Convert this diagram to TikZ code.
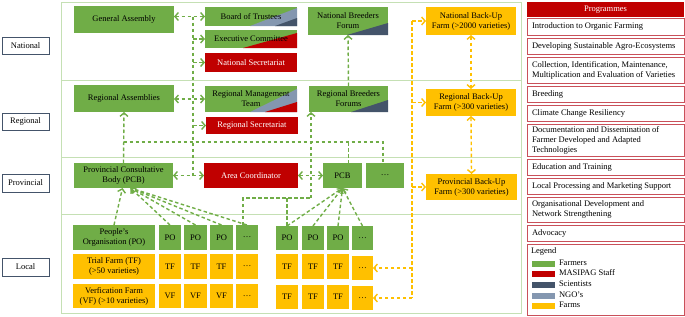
\documentclass[tikz,border=0pt]{standalone}
\usepackage{fontspec}
\setmainfont{Liberation Serif}
\usetikzlibrary{arrows.meta,calc,shadows}
\definecolor{farm}{HTML}{70AD47}
\definecolor{staff}{HTML}{C00000}
\definecolor{sci}{HTML}{44546A}
\definecolor{ngo}{HTML}{8497B0}
\definecolor{farms}{HTML}{FFC000}
\definecolor{framec}{HTML}{C5E0B4}
\definecolor{prog}{HTML}{C9505A}
\definecolor{lvl}{HTML}{44546A}
\newcommand{\rbox}[7]{%
  \pgfmathsetmacro\rbw{#5-#3}%
  \pgfmathsetmacro\rbh{#6-#4}%
  \node[#1, minimum width=\rbw pt, minimum height=\rbh pt] (#2) at ({(#3+#5)/2},{(#4+#6)/2}) {#7};}
\begin{document}
\begin{tikzpicture}[x=1pt,y=-1pt,
  base/.style={inner sep=0pt, outer sep=0pt, align=center, font=\fontsize{8.5}{10}\selectfont},
  gnode/.style={base, fill=farm},
  rnode/.style={base, fill=staff, text=white},
  ynode/.style={base, fill=farms},
  lvlnode/.style={base, fill=white, draw=lvl, line width=1pt, drop shadow={shadow xshift=0.8pt, shadow yshift=-0.8pt, opacity=0.3}},
  pnode/.style={base, fill=white, draw=prog, line width=0.9pt},
  ptext/.style={base, align=left, anchor=west},
  gconn/.style={draw=farm, line width=1.4pt, dash pattern=on 3.5pt off 2.5pt},
  yconn/.style={draw=farms, line width=1.4pt, dash pattern=on 3.5pt off 2.5pt},
  >={Straight Barb[length=3.5pt,width=8pt]},
  ]
\useasboundingbox (0,0) rectangle (685,316);
% frame
\draw[framec, line width=1pt] (61,2) rectangle (521,313);
\draw[framec, line width=1pt] (61,80) -- (521,80) (61,157) -- (521,157) (61,214) -- (521,214);
% level labels
\rbox{lvlnode}{lnat}{2}{37}{49}{54}{National}
\rbox{lvlnode}{lreg}{2}{113}{49}{130}{Regional}
\rbox{lvlnode}{lprov}{2}{174}{49}{192}{Provincial}
\rbox{lvlnode}{lloc}{2}{258}{49}{276}{Local}
% national
\rbox{gnode}{ga}{74}{6}{174}{33}{General Assembly}
\rbox{gnode, path picture={\fill[ngo] ([xshift=-47pt]path picture bounding box.south east) -- ([yshift=-1pt]path picture bounding box.north east) -- (path picture bounding box.south east) -- cycle; \fill[sci] ([xshift=-22pt]path picture bounding box.south east) -- ([yshift=8pt]path picture bounding box.south east) -- (path picture bounding box.south east) -- cycle;}}{bot}{205}{7}{297}{26}{Board of Trustees}
\rbox{gnode, path picture={\fill[staff] ([xshift=-54pt]path picture bounding box.south east) -- ([yshift=-3pt]path picture bounding box.north east) -- (path picture bounding box.south east) -- cycle;}}{ec}{205}{30}{297}{48}{Executive Committee}
\rbox{rnode}{ns}{205}{53}{297}{72}{National Secretariat}
\rbox{gnode, path picture={\fill[sci] ([xshift=-41pt]path picture bounding box.south east) -- ([yshift=12pt]path picture bounding box.south east) -- (path picture bounding box.south east) -- cycle;}}{nbf}{308}{7}{388}{35}{National Breeders\\Forum}
\rbox{ynode}{nbuf}{426}{7}{516}{35}{National Back-Up\\Farm (>2000 varieties)}
% regional
\rbox{gnode}{ra}{74}{85}{174}{112}{Regional Assemblies}
\rbox{gnode, path picture={\fill[ngo] ([xshift=-47pt]path picture bounding box.south east) -- ([yshift=-3pt]path picture bounding box.north east) -- (path picture bounding box.south east) -- cycle; \fill[staff] ([xshift=-32pt]path picture bounding box.south east) -- ([yshift=10pt]path picture bounding box.south east) -- (path picture bounding box.south east) -- cycle;}}{rmt}{205}{86}{297}{112}{Regional Management\\Team}
\rbox{rnode}{rs}{206}{117}{298}{134}{Regional Secretariat}
\rbox{gnode, path picture={\fill[sci] ([xshift=-37pt]path picture bounding box.south east) -- ([yshift=12pt]path picture bounding box.south east) -- (path picture bounding box.south east) -- cycle;}}{rbf}{309}{86}{388}{112}{Regional Breeders\\Forums}
\rbox{ynode}{rbuf}{426}{89}{516}{116}{Regional Back-Up\\Farm (>300 varieties)}
% provincial
\rbox{gnode}{pcbb}{74}{163}{173}{188}{Provincial Consultative\\Body (PCB)}
\rbox{rnode}{ac}{204}{163}{298}{188}{Area Coordinator}
\rbox{gnode}{pcb}{323}{163}{362}{188}{PCB}
\rbox{gnode}{pdots}{366}{163}{404}{188}{\ldots}
\rbox{ynode}{pbuf}{426}{174}{517}{200}{Provincial Back-Up\\Farm (>300 varieties)}
% local
\rbox{gnode}{lpo}{73}{225}{155}{250}{People’s\\Organisation (PO)}
\rbox{ynode}{ltf}{73}{254}{155}{279}{Trial Farm (TF)\\(>50 varieties)}
\rbox{ynode}{lvf}{73}{284}{155}{308}{Verfication Farm\\(VF) (>10 varieties)}
\foreach \i/\a/\b in {1/159/181,2/184/207,3/210/233}{
  \rbox{gnode}{lpo\i}{\a}{225}{\b}{250}{PO}
  \rbox{ynode}{ltf\i}{\a}{254}{\b}{279}{TF}
  \rbox{ynode}{lvf\i}{\a}{284}{\b}{308}{VF}
}
\rbox{gnode}{lpod}{236}{225}{258}{250}{\ldots}
\rbox{ynode}{ltfd}{236}{254}{258}{279}{\ldots}
\rbox{ynode}{lvfd}{236}{284}{258}{308}{\ldots}
\foreach \i/\a/\b in {1/276/298,2/302/324,3/327/349}{
  \rbox{gnode}{rpo\i}{\a}{226}{\b}{250}{PO}
  \rbox{ynode}{rtf\i}{\a}{254}{\b}{279}{TF}
  \rbox{ynode}{rbt\i}{\a}{285}{\b}{309}{TF}
}
\rbox{gnode}{rpod}{352}{226}{373}{250}{\ldots}
\rbox{ynode}{rtfd}{352}{256}{373}{280}{\ldots}
\rbox{ynode}{rbtd}{352}{286}{373}{310}{\ldots}
% programmes
\rbox{base, fill=staff, text=white}{phead}{527}{2}{684}{17}{Programmes}
\foreach \n/\ya/\yb/\t in {1/18/35/{Introduction to Organic Farming},
  2/38/54/{Developing Sustainable Agro-Ecosystems},
  3/57/83/{Collection, Identification, Maintenance,\\Multiplication and Evaluation of Varieties},
  4/86/102/{Breeding},
  5/105/121/{Climate Change Resiliency},
  6/124/156/{Documentation and Dissemination of\\Farmer Developed and Adapted\\Technologies},
  7/159/175/{Education and Training},
  8/178/194/{Local Processing and Marketing Support},
  9/197/222/{Organisational Development and\\Network Strengthening},
  10/225/241/{Advocacy}}{
  \rbox{pnode}{p\n}{527}{\ya}{684}{\yb}{}
  \node[ptext] (pt\n) at ([xshift=5pt]p\n.west) {\t};
}
\rbox{pnode}{leg}{527}{244}{684}{315}{}
\node[ptext] (legt) at (531,251) {Legend};
\foreach \y/\c/\t/\nm in {264/farm/Farmers/l1, 274/staff/MASIPAG Staff/l2, 285/sci/Scientists/l3, 296/ngo/NGO’s/l4, 306/farms/Farms/l5}{
  \fill[\c] (532,\y-3) rectangle (555,\y+3);
  \node[ptext] (\nm) at (559,\y-1) {\t};
}
% ---------- green connectors
\coordinate (spT) at (193,16.5);
\draw[gconn,<->] (ga.east |- bot.west) -- (bot.west);
\draw[gconn] (spT) -- (spT |- ac.west);
\draw[gconn,->] (spT |- ec.west) -- (ec.west);
\draw[gconn,->] (spT |- ns.west) -- (ns.west);
\draw[gconn,<->] (ra.east |- rmt.west) -- (rmt.west);
\draw[gconn,->] (spT |- rs.west) -- (rs.west);
\draw[gconn,<->] (pcbb.east) -- (ac.west);
\draw[gconn,<->] (ac.east) -- (pcb.west);
\draw[gconn,->] (pcbb.north) -- (ra.south);
\coordinate (hL) at (123.5,142);
\coordinate (hR) at ([xshift=-2pt]pdots.north |- hL);
\draw[gconn] (hL) -- (hR) -- ([xshift=-2pt]pdots.north);
\draw[gconn] ([xshift=6pt]pcb.north |- hL) -- ([xshift=6pt]pcb.north);
\draw[gconn,->] (rbf.north) -- (nbf.south);
\coordinate (rv) at (311,198);
\draw[gconn,->] (rv) -- (rv |- rbf.south);
\draw[gconn] ([xshift=-4pt]lpod.north) -- ([xshift=-4pt]lpod.north |- rv) -- (rv);
\draw[gconn] (rpo1.north |- rv) -- (rpo1.north);
\draw[gconn,->] (lpo.north) -- ([xshift=-1pt]pcbb.south);
\foreach \b in {lpo1,lpo2,lpo3,lpod}{
  \draw[gconn,->] (\b.north) -- ([xshift=7pt]pcbb.south);
}
\foreach \b in {rpo1,rpo2,rpo3,rpod}{
  \draw[gconn,->] (\b.north) -- (pcb.south);
}
% ---------- yellow connectors
\coordinate (yT) at (412,21);
\coordinate (yB) at (yT |- rbtd.east);
\draw[yconn] (yT) -- (yB);
\draw[yconn,->] (yT) -- (yT -| nbuf.west);
\draw[yconn,->] (yT |- rbuf.west) -- (rbuf.west);
\draw[yconn,->] (yT |- pbuf.west) -- (pbuf.west);
\draw[yconn,->] (yT |- rtfd.east) -- (rtfd.east);
\draw[yconn,->] (yB) -- (rbtd.east);
\draw[yconn,<->] (nbuf.south) -- (rbuf.north);
\draw[yconn,<->] (rbuf.south) -- (pbuf.north);
\end{tikzpicture}
\end{document}
